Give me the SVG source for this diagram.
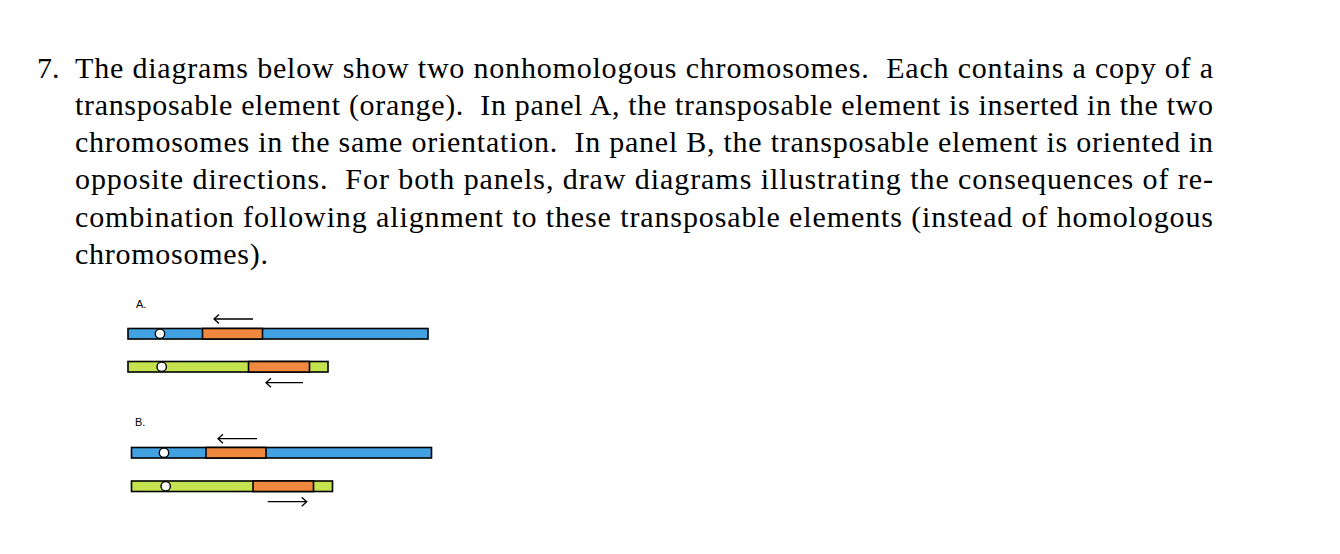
<svg xmlns="http://www.w3.org/2000/svg" width="1340" height="554" viewBox="0 0 1340 554">
<style>
.t{font-family:"Liberation Serif","Times New Roman",serif;font-size:30px;fill:#000;white-space:pre}
.lbl{font-family:"Liberation Sans",Arial,sans-serif;font-size:11px;fill:#000}
.chr{stroke:#000;stroke-width:1.6}
.blue{fill:#42A1E0}
.green{fill:#C4E34F}
.orange{fill:#F0883F}
.cen{fill:#fff;stroke:#000;stroke-width:1.4}
.arr{stroke:#000;stroke-width:1.3;fill:none}
</style>
<rect width="1340" height="554" fill="#fff"/>
<g id="question" xml:space="preserve">
<text class="t" x="37" y="77.5">7.</text>
<text class="t" x="75" y="77.5" textLength="1138" lengthAdjust="spacing">The diagrams below show two nonhomologous chromosomes.  Each contains a copy of a</text>
<text class="t" x="75" y="114.8" textLength="1138" lengthAdjust="spacing">transposable element (orange).  In panel A, the transposable element is inserted in the two</text>
<text class="t" x="75" y="152.1" textLength="1138" lengthAdjust="spacing">chromosomes in the same orientation.  In panel B, the transposable element is oriented in</text>
<text class="t" x="75" y="189.4" textLength="1138" lengthAdjust="spacing">opposite directions.  For both panels, draw diagrams illustrating the consequences of re-</text>
<text class="t" x="75" y="226.9" textLength="1138" lengthAdjust="spacing">combination following alignment to these transposable elements (instead of homologous</text>
<text class="t" x="75" y="264.3" textLength="193" lengthAdjust="spacing">chromosomes).</text>
</g>
<g id="panelA">
<text class="lbl" x="136" y="308">A.</text>
<g id="A-chr1">
<rect class="chr blue" x="128" y="328.5" width="300" height="10.5"/>
<rect class="chr orange" x="202.5" y="328.5" width="60" height="10.5"/>
<circle class="cen" cx="160" cy="333.7" r="4.7"/>
</g>
<g id="A-chr2">
<rect class="chr green" x="128" y="361.5" width="200" height="10.5"/>
<rect class="chr orange" x="248.5" y="361.5" width="61" height="10.5"/>
<circle class="cen" cx="161.7" cy="366.7" r="4.7"/>
</g>
</g>
<g id="panelB">
<text class="lbl" x="135" y="426">B.</text>
<g id="B-chr1">
<rect class="chr blue" x="131.5" y="447.5" width="300" height="10.5"/>
<rect class="chr orange" x="206" y="447.5" width="60" height="10.5"/>
<circle class="cen" cx="164" cy="452.7" r="4.7"/>
</g>
<g id="B-chr2">
<rect class="chr green" x="131.5" y="481" width="201" height="10.5"/>
<rect class="chr orange" x="253" y="481" width="60.5" height="10.5"/>
<circle class="cen" cx="165.7" cy="486.2" r="4.7"/>
</g>
</g>
<g id="connectors">
<path class="arr" d="M214 319H253M219 314.5L214 319L219 323.5"/>
<path class="arr" d="M266 382.7H303M271 378.2L266 382.7L271 387.2"/>
<path class="arr" d="M218 438.7H257M223 434.2L218 438.7L223 443.2"/>
<path class="arr" d="M267.7 501.7H306.7M301.7 497.2L306.7 501.7L301.7 506.2"/>
</g>
</svg>
